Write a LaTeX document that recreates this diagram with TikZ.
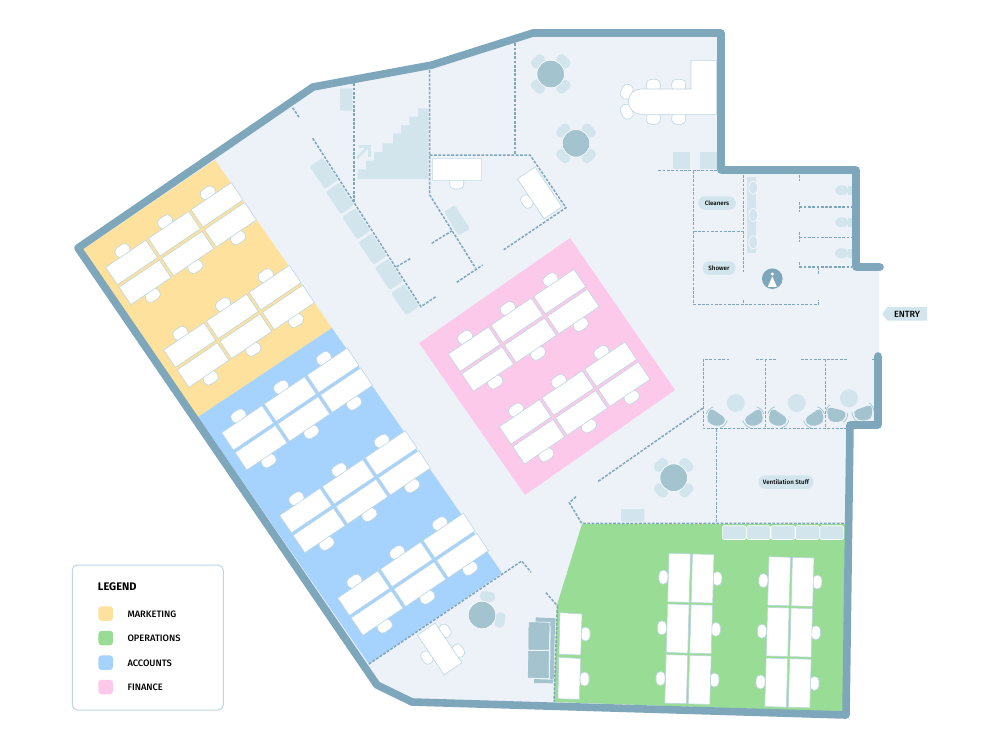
\documentclass[tikz,border=0pt]{standalone}
\usepackage{fontspec}
\setmainfont{Fira Sans}
\newfontfamily\medfont{Fira Sans Medium}
\definecolor{floorc}{HTML}{EDF2F9}
\definecolor{wallc}{HTML}{7FA7BC}
\definecolor{dotc}{HTML}{7FA7BC}
\definecolor{lightc}{HTML}{D2E5ED}
\definecolor{tealc}{HTML}{A3C3CE}
\definecolor{edgec}{HTML}{BDD6E0}
\definecolor{yellowc}{HTML}{FDE19C}
\definecolor{greenc}{HTML}{98DC95}
\definecolor{bluec}{HTML}{A6D2FE}
\definecolor{pinkc}{HTML}{FDC9EB}
\tikzset{
  wall/.style={draw=wallc,line width=7.6pt,line join=round,line cap=round},
  partition/.style={draw=dotc,line width=1.5pt,dash pattern=on 2.8pt off 1.5pt},
  desk/.style={fill=white,draw=edgec,line width=.6pt},
  seat/.style={fill=white,draw=edgec,line width=.6pt,rounded corners=4.5pt},
  cabinet/.style={fill=lightc,draw=white,line width=.6pt,rounded corners=2pt},
  pill/.style={fill=lightc,rounded corners=6.5pt,minimum height=13.5pt,inner sep=0pt,font=\medfont\fontsize{6.2}{6.2}\selectfont},
  legendtext/.style={anchor=west,inner sep=0pt,font=\medfont\fontsize{9.3}{9.3}\selectfont},
  swatch/.style={rounded corners=3pt,minimum width=14.5pt,minimum height=14.5pt,inner sep=0pt},
}
% pod of six desks
\newcommand{\deskpod}[2]{
  \begin{scope}[shift={(#1,#2)},rotate=34]
    \foreach \i in {0,1,2} {
      \draw[seat] (\i*51.5+15.5,-10) rectangle ++(15.5,11);
      \draw[seat] (\i*51.5+15.5,44) rectangle ++(15.5,11);
      \draw[desk] (\i*51.5,0) rectangle ++(48.5,21);
      \draw[desk] (\i*51.5,24) rectangle ++(48.5,21);
    }
  \end{scope}
}
% green room block, 2 by 3
\newcommand{\deskblock}[2]{
  \begin{scope}[shift={(#1,#2)},rotate=-1.6]
    \foreach \r in {0,1,2} {
      \draw[seat] (-9.5,\r*50.7+17) rectangle ++(9,14);
      \draw[seat] (44.5,\r*50.7+17) rectangle ++(9,14);
      \draw[desk] (0,\r*50.7) rectangle ++(21.5,48.5);
      \draw[desk] (23.5,\r*50.7) rectangle ++(21.5,48.5);
    }
  \end{scope}
}
% round table with four seats
\newcommand{\roundtable}[2]{
  \foreach \a in {45,135,225,315}
    \fill[lightc,rounded corners=4pt,shift={(#1,#2)},rotate=\a] (13,-7.5) rectangle (23,7.5);
  \draw[fill=tealc,draw=white,line width=.6pt] (#1,#2) circle[radius=13.8pt];
}
% armchair in the meeting rooms
\newcommand{\armchair}[4]{
  \begin{scope}[shift={(#1,#2)}]
    \draw[tealc,line width=.7pt] (#3-28:11pt) arc[start angle=#3-28,end angle=#3+28,radius=11pt];
    \draw[tealc,line width=.7pt] (#3+152:11pt) arc[start angle=#3+152,end angle=#3+208,radius=11pt];
    \fill[tealc,rounded corners=5pt,rotate={#3+(#4)*45},xscale=#4] (-7,-10) -- (10.5,2) -- (3,10) -- (-10.5,5) -- cycle;
  \end{scope}
}
\begin{document}
\begin{tikzpicture}[x=1pt,y=-1pt]
  \useasboundingbox[fill=white] (0,0) rectangle (1000,750);
  % floor and zones
  \fill[floorc] (78,248) -- (313,87) -- (432,65) -- (533,33) -- (721,33) -- (721,170) -- (856,170) -- (856,267) -- (879,267) -- (879,425) -- (850,425) -- (846,715) -- (412,702) -- (377,685) -- cycle;
  \fill[yellowc] (215,160) -- (332,328) -- (198,417) -- (82,250) -- cycle;
  \fill[bluec] (198,417) -- (332,328) -- (502,573) -- (369,664) -- cycle;
  \fill[pinkc] (419,343) -- (570,238) -- (675,390) -- (525,495) -- cycle;
  \fill[greenc] (582,524) -- (557,605) -- (554,702) -- (846,712) -- (846,524) -- cycle;
  % desks
  \deskpod{105.7}{267.3}
  \deskpod{163.7}{350}
  \deskpod{221.7}{432.7}
  \deskpod{279.7}{515.4}
  \deskpod{337.7}{598}
  \deskpod{448.3}{354}
  \deskpod{499.3}{426.7}
  \deskblock{669}{553.3}
  \deskblock{769}{556.7}
  % short desks by the sofa
  \draw[seat] (581,627) rectangle ++(9,14);
  \draw[seat] (580,672) rectangle ++(9,14);
  \draw[desk] (560,612.7) -- (582,614) -- (580.7,655) -- (559,654.3) -- cycle;
  \draw[desk] (558.7,657.3) -- (580.7,658.5) -- (579.3,699.3) -- (558,698.7) -- cycle;
  % sofa
  \fill[tealc] (535.7,617.3) -- (555.7,618.3) -- (555,626) -- (535.7,625) -- cycle;
  \fill[tealc] (534,679) -- (553.3,679.7) -- (553,683.3) -- (534,683) -- cycle;
  \draw[fill=tealc,draw=white,line width=.5pt] (528.3,621.7) -- (550,622.3) -- (549.3,650) -- (528,650) -- cycle;
  \draw[fill=tealc,draw=white,line width=.5pt] (528,650.7) -- (549.3,650.7) -- (549,678.7) -- (527.3,678) -- cycle;
  \fill[tealc] (550.7,622.7) -- (555,622.7) -- (553.7,679.3) -- (550,679.3) -- cycle;
  % round tables
  \roundtable{550.7}{74}
  \roundtable{576}{143.3}
  \roundtable{673.7}{477.7}
  \fill[lightc,rounded corners=4pt,shift={(487.5,596.5)},rotate=-10] (-7.5,-5) rectangle (7.5,5);
  \fill[lightc,rounded corners=4pt,shift={(500,620)},rotate=80] (-7.5,-5) rectangle (7.5,5);
  \draw[fill=tealc,draw=white,line width=.6pt] (482,615) circle[radius=13.8pt];
  % table at the bottom
  \begin{scope}[shift={(417.3,635)},rotate=34]
    \draw[seat] (20.4,5) rectangle ++(10,14);
    \draw[seat] (20.4,29) rectangle ++(10,14);
    \draw[seat] (-9.7,17) rectangle ++(10,14);
    \draw[desk] (0,0) rectangle (21.5,48);
  \end{scope}
  % meeting table top right
  \draw[seat] (646.3,79.3) rectangle ++(14,12);
  \draw[seat] (671.7,79.3) rectangle ++(14,12);
  \draw[seat] (646.3,112.3) rectangle ++(14,12);
  \draw[seat] (671.7,112.3) rectangle ++(14,12);
  \draw[seat,shift={(626.7,91.7)},rotate=-25] (-5.5,-7.5) rectangle (5.5,7.5);
  \draw[seat,shift={(626.7,111.7)},rotate=25] (-5.5,-7.5) rectangle (5.5,7.5);
  \draw[desk,rounded corners=0pt] (691,60.3) -- (716.7,60.3) -- (716.7,114.3) -- (641,114.3) arc[start angle=270,end angle=90,radius=12.65pt] -- (691,89) -- cycle;
  \fill[lightc] (673.3,152) rectangle (690,169);
  \fill[lightc] (700,152) rectangle (717,169);
  % stairs
  \fill[lightc] (357.7,179) -- (357.7,169.3) -- (366,169.3) -- (366,160.7) -- (374,160.7) -- (374,152) -- (382.7,152) -- (382.7,143.3) -- (393,143.3) -- (393,133.3) -- (401,133.3) -- (401,125) -- (409.3,125) -- (409.3,116.7) -- (418,116.7) -- (418,108.3) -- (428.3,108.3) -- (428.3,179) -- cycle;
  \draw[lightc,line width=2.8pt] (357,158) -- (368,147);
  \draw[lightc,line width=2.8pt] (359,146.5) -- (369.5,146.5) -- (369.5,157);
  \fill[lightc,rounded corners=1pt] (340,88.3) rectangle (352.3,110.7);
  % office desks
  \draw[seat] (449.7,177) rectangle ++(14,12);
  \draw[desk,draw=lightc,line width=1pt] (432.3,158.3) rectangle (481.7,180);
  \begin{scope}[shift={(517.3,179)},rotate=34]
    \draw[seat] (-9.7,17) rectangle ++(10,14);
    \draw[desk] (0,0) rectangle (21.5,48);
  \end{scope}
  \fill[lightc,rounded corners=2pt] (455,205) -- (470,229) -- (458.3,235.7) -- (444,211.7) -- cycle;
  % cabinets along the wall
  \foreach \i in {0,...,5}
    \fill[lightc,rounded corners=2pt,shift={(323.7+\i*16.3,173.3+\i*25.3)},rotate=34] (-8,-13.5) rectangle (8,13.5);
  % washroom fittings
  \fill[lightc] (746.7,177.3) rectangle (756,253.3);
  \foreach \y in {187.7,215,242.3}
    \draw[fill=lightc,draw=white,line width=.5pt] (753.3,\y) ellipse[x radius=4.5pt,y radius=6.5pt];
  \foreach \y in {190.3,222.3,253.3} {
    \fill[lightc] (841.7,\y) ellipse[x radius=6.5pt,y radius=5pt];
    \fill[lightc] (848.3,\y-4.5) rectangle (851.5,\y+4.5);
  }
  \fill[wallc] (772.3,278.7) circle[radius=10.3pt];
  \fill[white] (772.3,274) circle[radius=1.7pt];
  \fill[white,rounded corners=.5pt] (772.3,276.5) -- (776.9,286.9) -- (767.7,286.9) -- cycle;
  % meeting rooms
  \fill[lightc] (735.7,403) circle[radius=9pt];
  \fill[lightc] (796.7,403) circle[radius=9pt];
  \fill[lightc] (849,398.3) circle[radius=9pt];
  \armchair{716.7}{417.3}{-45}{1}
  \armchair{753.3}{417.3}{45}{-1}
  \armchair{778.3}{417.3}{-45}{1}
  \armchair{814}{417.3}{45}{-1}
  \armchair{836.7}{413.5}{-25}{1}
  \armchair{863}{412}{30}{-1}
  % cabinets in green room
  \foreach \i in {0,...,4}
    \draw[cabinet] (722.3+\i*24.4,525.7) rectangle ++(23.8,13.8);
  \fill[lightc,rounded corners=1pt] (621,509) rectangle (644.3,521.7);
  % partitions
  \draw[partition] (292.7,107.7) -- (299.3,117.7);
  \draw[partition] (312.7,138.3) -- (421,306.7) -- (435.7,296.7);
  \draw[partition] (396.7,266.7) -- (410.7,258.3);
  \draw[partition] (354,83.3) -- (354,201.7);
  \draw[partition] (429.7,70) -- (429.7,195) -- (475.7,268.3);
  \draw[partition] (456.7,282.3) -- (482.7,265);
  \draw[partition] (431.7,243.3) -- (451.7,231);
  \draw[partition] (515,43.3) -- (515,155);
  \draw[partition] (429.7,155) -- (530,155) -- (566,207.7) -- (503.3,250);
  \draw[partition] (658.3,170.7) -- (718.3,170.7);
  \draw[partition] (693.7,170.7) -- (693.7,304.3) -- (818.3,304.3) -- (818.3,300);
  \draw[partition] (743.7,300) -- (743.7,304.3);
  \draw[partition] (693.7,231.7) -- (743.7,231.7);
  \draw[partition] (743.7,175) -- (743.7,273.3);
  \draw[partition] (799.3,175) -- (799.3,181);
  \draw[partition] (799.3,201.7) -- (799.3,211.7);
  \draw[partition] (799.3,207) -- (851.7,207);
  \draw[partition] (799.3,231.7) -- (799.3,241.7);
  \draw[partition] (799.3,237.7) -- (851.7,237.7);
  \draw[partition] (799.3,262.3) -- (799.3,267);
  \draw[partition] (799.3,267) -- (852,267);
  \draw[partition] (818.3,267) -- (818.3,274);
  \draw[partition] (729.3,359.3) -- (703.3,359.3) -- (703.3,428.7) -- (846.7,428.7);
  \draw[partition] (756,359.3) -- (776,359.3);
  \draw[partition] (801,359.3) -- (846.7,359.3);
  \draw[partition] (872,359.3) -- (876.7,359.3);
  \draw[partition] (765.7,359.3) -- (765.7,428.7);
  \draw[partition] (825.7,359.3) -- (825.7,428.7);
  \draw[partition] (716.3,428.7) -- (716.3,523.3);
  \draw[partition] (576,496.7) -- (569.3,502.7) -- (581.7,523.3) -- (845,523.3);
  \draw[partition] (702.7,408.3) -- (597.7,481.7);
  \draw[partition] (369,664) -- (521.7,561) -- (531,572.3);
  \draw[partition] (546,592.7) -- (557.3,605.7) -- (554,701.7);
  % outer walls
  \draw[wall] (880,267) -- (856,267) -- (856,170) -- (721,170) -- (721,33) -- (533,33) -- (432,65) -- (313,87) -- (78,248) -- (377,685) -- (412,702) -- (846,715) -- (850,425) -- (878,425) -- (878,356);
  % labels
  \node (cleaners) [pill,minimum width=37.5pt] at (717,203) {Cleaners};
  \node (shower) [pill,minimum width=33pt] at (719,268) {Shower};
  \node (ventilation) [pill,minimum width=55pt] at (786,482) {Ventilation Stuff};
  \fill[lightc] (882.3,314) -- (887.3,307) -- (927,307) -- (927,320.7) -- (887.3,320.7) -- cycle;
  \node (entry) [inner sep=0pt,font=\medfont\fontsize{9}{9}\selectfont] at (907,314) {ENTRY};
  % legend
  \draw[fill=white,draw=edgec,line width=1pt,rounded corners=5pt] (72.3,565) rectangle (223.3,710);
  \node (legend) [anchor=west,inner sep=0pt,font=\fontsize{11}{11}\selectfont\bfseries] at (97.7,587) {LEGEND};
  \node (swmarketing) [swatch,fill=yellowc] at (105.7,613.5) {};
  \node (swoperations) [swatch,fill=greenc] at (105.7,638) {};
  \node (swaccounts) [swatch,fill=bluec] at (105.7,662.7) {};
  \node (swfinance) [swatch,fill=pinkc] at (105.7,687) {};
  \node (marketing) [legendtext] at (127.3,614) {MARKETING};
  \node (operations) [legendtext] at (127.3,638.5) {OPERATIONS};
  \node (accounts) [legendtext] at (127.3,663) {ACCOUNTS};
  \node (finance) [legendtext] at (127.3,687.5) {FINANCE};
\end{tikzpicture}
\end{document}
